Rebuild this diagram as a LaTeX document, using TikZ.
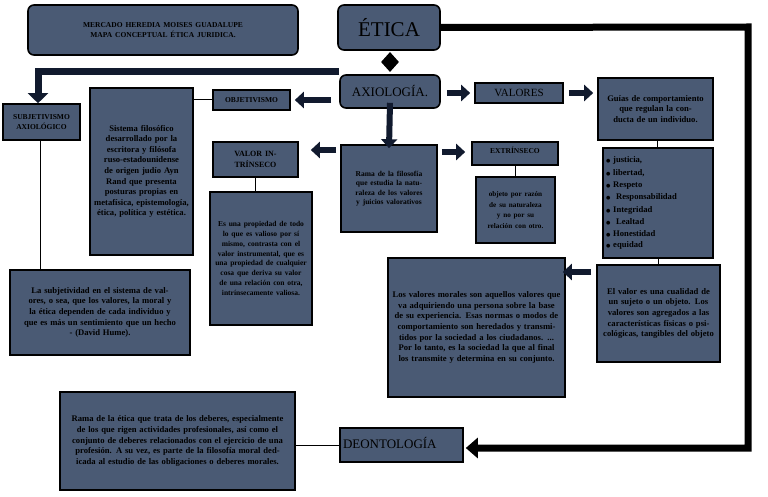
\documentclass[tikz,border=0pt]{standalone}
\usepackage{fontspec}
\setmainfont{Liberation Serif}
\newfontfamily\djvfont{DejaVu Sans}
\usetikzlibrary{arrows.meta,shapes.geometric}
\definecolor{boxc}{HTML}{4A5A74}
\definecolor{arr}{HTML}{111A2E}
\tikzset{
 bx/.style={draw=black,line width=1.6pt,fill=boxc,align=center,font=\bfseries\fontsize{8.6}{10.6}\selectfont,inner sep=2pt},
 ar/.style={arr,line width=6pt,-{Triangle[length=9pt,width=16pt]}},
 ln/.style={draw=black,line width=1pt}
}
\newcommand{\bxn}[6][]{\node[bx,minimum width={#4-#2},minimum height={#5-#3},text width={#4-#2-6},anchor=center,#1] (#6) at ({(#2+#4)/2},{(#3+#5)/2})}
\begin{document}
\begin{tikzpicture}[x=1pt,y=-1pt]
\useasboundingbox (0,0) rectangle (768,497);
\bxn[rounded corners=6pt]{28}{5}{298}{55}{title} {\fontsize{7.5}{9}\selectfont MERCADO HEREDIA MOISES GUADALUPE\\ MAPA CONCEPTUAL ÉTICA JURIDICA.};
\bxn[rounded corners=6pt,font=\fontsize{21}{24}\selectfont]{338}{5}{440}{50}{etica}{ÉTICA};
\bxn[rounded corners=6pt,font=\fontsize{13}{15}\selectfont]{340}{75}{440}{108}{axio}{AXIOLOGÍA.};
\node[diamond,fill=black,minimum width=18pt,minimum height=20pt,inner sep=0pt] (dia) at (390,62) {};
\bxn{3}{104}{80}{140}{subj}{\fontsize{7.5}{9}\selectfont SUBJETIVISMO AXIOLÓGICO};
\bxn{90}{88}{193}{255}{sist}{Sistema filosófico desarrollado por la escritora y filósofa ruso-estadounidense de origen judío Ayn Rand que presenta posturas propias en metafísica, epistemología, ética, política y estética.\\[18pt]};
\bxn{213}{90}{290}{110}{obj}{\fontsize{7.5}{9}\selectfont OBJETIVISMO};
\bxn{475}{83}{563}{103}{val}{\fontsize{11}{12}\selectfont\mdseries VALORES};
\bxn{598}{78}{713}{140}{guia}{Guías de comportamiento que regulan la conducta de un individuo.};
\bxn{341}{145}{437}{232}{rama}{\fontsize{7.5}{9.5}\selectfont Rama de la filosofía que estudia la naturaleza de los valores y juicios valorativos\\[14pt]};
\bxn{213}{142}{298}{177}{vint}{\fontsize{8}{9.5}\selectfont VALOR INTRÍNSECO};
\bxn{210}{192}{312}{325}{prop}{\fontsize{7.5}{9.8}\selectfont Es una propiedad de todo lo que es valioso por sí mismo, contrasta con el valor instrumental, que es una propiedad de cualquier cosa que deriva su valor de una relación con otra, intrínsecamente valiosa.\\[12pt]};
\bxn{472}{142}{558}{165}{ext}{\raisebox{6pt}{\fontsize{7.5}{9}\selectfont EXTRÍNSECO}};
\bxn{476}{177}{555}{243}{objeto}{\fontsize{7.2}{9.5}\selectfont objeto por razón de su naturaleza y no por su relación con otro.};
\bxn[align=left]{603}{148}{713}{258}{bul}{\fontsize{8.6}{12.3}\selectfont{\djvfont\tiny●} justicia,\\{\djvfont\tiny●} libertad,\\{\djvfont\tiny●} Respeto\\{\djvfont\tiny●} \ Responsabilidad\\{\djvfont\tiny●} Integridad\\{\djvfont\tiny●} \ Lealtad\\{\djvfont\tiny●} Honestidad\\{\djvfont\tiny●} equidad};
\bxn{597}{265}{720}{362}{elval}{El valor es una cualidad de un sujeto o un objeto. Los valores son agregados a las características físicas o psicológicas, tangibles del objeto};
\bxn{388}{258}{565}{397}{morales}{Los valores morales son aquellos valores que va adquiriendo una persona sobre la base de su experiencia. Esas normas o modos de comportamiento son heredados y transmitidos por la sociedad a los ciudadanos. ... Por lo tanto, es la sociedad la que al final los transmite y determina en su conjunto.};
\bxn{10}{270}{190}{355}{subtxt}{La subjetividad en el sistema de valores, o sea, que los valores, la moral y la ética dependen de cada individuo y que es más un sentimiento que un hecho\\ - (David Hume).};
\bxn{60}{392}{295}{490}{deotxt}{Rama de la ética que trata de los deberes, especialmente de los que rigen actividades profesionales, así como el conjunto de deberes relacionados con el ejercicio de una profesión. A su vez, es parte de la filosofía moral dedicada al estudio de las obligaciones o deberes morales.};
\bxn[align=left]{340}{428}{463}{462}{deon}{\raisebox{5pt}{\fontsize{13}{15}\mdseries\selectfont DEONTOLOGÍA}};
% thin lines
\draw[ln] (sist.east|-obj.west) -- (obj.west);
\draw[ln] (vint.south) -- (vint.south|-prop.north);
\draw[ln] (ext.south) -- (ext.south|-objeto.north);
\draw[ln] (guia.south-|657,0) -- (bul.north-|657,0);
\draw[ln] (bul.south-|658,0) -- (elval.north-|658,0);
\draw[ln] (subj.south-|40,0) -- (subtxt.north-|40,0);
\draw[ln] (deotxt.east|-deon.west) -- (deon.west);
% thick connectors
\coordinate (c1) at (748,27);\coordinate (c2) at (748,448);
\draw[line width=7pt,-{Triangle[length=12pt,width=20pt]}] (etica.east) -- (c1) -- (c2) -- ([xshift=2pt]deon.east|-c2);
\coordinate (c3) at (38,72);
\draw[line width=7pt,arr,-{Triangle[length=10pt,width=20pt]}] (axio.west|-c3) -- (c3) -- (subj.north-|c3);
% block arrows
\draw[ar] ([xshift=-8pt]axio.west|-obj.east) -- ([xshift=4pt]obj.east);
\draw[ar] ([xshift=6pt]axio.east|-val.west) -- ([xshift=-4pt]val.west);
\draw[ar] ([xshift=5pt]val.east) -- ([xshift=-4pt]guia.west|-val.east);
\draw[ar] ([yshift=6pt]axio.south) -- ([yshift=-4pt]rama.north);
\draw[ar] ([xshift=-4pt]rama.west|-150,150) -- ([xshift=12pt]vint.east|-150,150);
\draw[ar] ([xshift=4pt]rama.east|-152,152) -- ([xshift=-6pt]ext.west|-152,152);
\draw[ar] ([xshift=-5pt]elval.west|-272,272) -- ([xshift=-3pt]morales.east|-272,272);
\end{tikzpicture}
\end{document}
